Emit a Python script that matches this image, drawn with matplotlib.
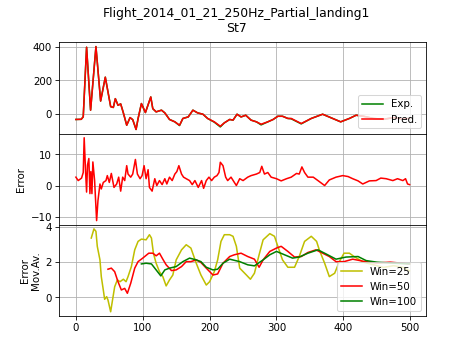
import matplotlib
matplotlib.use("Agg")
import matplotlib.pyplot as plt

TITLE = "Flight_2014_01_21_250Hz_Partial_landing1\nSt7"

# top panel: measured vs predicted signal
sig_x = [0, 8, 11, 16, 22, 30, 37, 44, 52, 56, 59, 63, 67, 71, 76, 81, 85, 90, 93,
         98, 104, 112, 115, 120, 128, 133, 140, 148, 155, 160, 168, 175, 182, 190,
         197, 207, 216, 222, 230, 235, 241, 247, 254, 262, 270, 277, 287, 295, 302,
         309, 317, 322, 337, 352, 369, 384, 396, 409, 419, 430, 445, 460, 475,
         488, 499]
exp_vals = [-31, -30, -15, 396, 24, 400, 78, 219, 45, 40, 92, 53, 61, 8, -65, -20,
            -32, -90, -26, 63, 10, 102, 33, 14, 24, 8, -31, -45, -67, -25, -16, 24,
            8, 0, -25, -47, -75, -51, -31, -35, 0, -16, -6, -35, -45, -63, -45, -31,
            -12, -12, -25, -27, -57, -25, 0, -25, -45, -25, -6, -12, -25, -30, -20,
            -28, -25]
pred_vals = [-31, -30, -15, 396, 24, 400, 78, 219, 45, 40, 92, 53, 61, 8, -65, -20,
             -32, -90, -26, 63, 10, 102, 33, 14, 24, 8, -31, -45, -65, -25, -16, 24,
             8, 0, -25, -45, -71, -51, -31, -35, 0, -16, -6, -35, -45, -59, -45,
             -31, -12, -12, -25, -25, -55, -25, 0, -25, -45, -25, -6, -12, -25, -30,
             -20, -28, -25]

# middle panel: prediction error
err_x = [0, 3.5, 8.5, 11, 12.4, 14.5, 16, 17.4, 19.4, 21, 22.4, 24, 25.4, 28, 31,
         33, 36, 38, 41, 45, 47, 50, 53, 57, 61, 64, 67, 70, 73, 76, 78, 82, 85,
         89, 92, 96, 99, 102, 105, 108, 110, 114, 118, 121, 125, 129, 133, 136,
         140, 144, 148, 151, 154, 158, 161, 165, 170, 174, 178, 183, 188, 191, 195,
         199, 203, 207, 211, 214, 216, 220, 224, 227, 232, 237, 240, 245, 250, 257,
         262, 270, 275, 278, 282, 287, 292, 300, 307, 315, 322, 330, 334, 338, 342,
         347, 355, 362, 372, 379, 389, 399, 407, 414, 422, 429, 439, 449, 456, 464,
         474, 481, 489, 493, 496, 499]
err_vals = [2.7, 1.6, 2.4, 4.2, 15.4, 4.5, -2.1, 6.6, 8.7, -2.6, 4.5, -2.6, 7.6,
            1.6, -11.3, -4.9, 0.5, -1.1, 1.0, 1.6, 3.2, 1.0, 3.9, -0.6, 0.5, 2.7,
            -1.8, 2.7, 1.6, 6.4, 3.7, 2.7, 3.7, 8.4, 3.7, 2.2, 3.2, 6.4, 2.2, 5.1,
            -0.6, -1.8, 2.2, 0.0, 1.6, 0.3, 2.2, 0.5, 2.7, 1.6, 3.7, 4.5, 6.4, 3.7,
            2.7, 2.2, 1.6, 0.3, 1.6, -0.6, 1.6, -0.9, 1.6, 2.7, 1.6, 2.7, 3.2, 4.2,
            7.5, 6.4, 2.7, 1.6, 2.7, 1.0, 0.0, 2.2, 1.6, 2.7, 3.2, 3.7, 4.2, 6.2,
            3.7, 4.2, 2.7, 2.2, 1.5, 2.2, 2.7, 3.9, 3.7, 6.0, 4.2, 2.7, 2.7, 1.6,
            0.0, 1.8, 2.7, 3.2, 2.9, 2.2, 1.5, 0.5, 1.5, 1.6, 2.4, 2.2, 1.6, 2.2,
            1.6, 2.2, 0.5, 0.3]

# bottom panel: moving averages of the error
w25_x = [23, 27, 30, 32, 36, 38, 41, 43, 46, 48, 52, 54, 58, 62, 66, 71, 75, 78,
         83, 88, 93, 98, 105, 110, 113, 116, 120, 125, 130, 135, 140, 145, 150,
         158, 165, 172, 180, 187, 195, 200, 207, 212, 217, 222, 230, 235, 240, 245,
         255, 261, 267, 274, 280, 290, 297, 302, 309, 317, 327, 334, 342, 352, 360,
         364, 372, 379, 387, 394, 401, 409, 416, 430, 445, 460, 475, 490, 499]
w25_vals = [3.37, 3.89, 3.75, 2.9, 2.13, 1.18, 0.42, -0.11, 0.04, -0.15, -0.82,
            -0.34, 0.6, 0.99, 0.89, 1.03, 0.89, 1.18, 1.75, 2.7, 3.18, 3.31, 3.27,
            3.56, 3.37, 2.5, 1.94, 1.46, 1.18, 0.65, 0.99, 1.27, 2.13, 2.7, 2.99,
            2.8, 1.94, 1.27, 0.7, 0.89, 1.46, 2.13, 3.18, 3.56, 3.56, 3.47, 2.9,
            1.66, 1.27, 1.03, 1.37, 2.42, 3.27, 3.62, 3.47, 2.9, 2.13, 1.71, 1.71,
            2.32, 3.18, 3.47, 3.18, 2.7, 1.94, 1.18, 1.37, 2.03, 2.51, 2.51, 2.32,
            2.0, 1.85, 1.7, 1.8, 1.7, 1.5]
w50_x = [48, 53, 58, 63, 68, 73, 77, 82, 88, 93, 100, 109, 115, 120, 125, 130,
         135, 143, 150, 158, 165, 172, 180, 187, 195, 205, 212, 220, 230, 237, 247,
         257, 267, 274, 280, 290, 300, 307, 317, 327, 337, 347, 359, 369, 379, 389,
         401, 414, 430, 450, 470, 499]
w50_vals = [1.6, 1.66, 1.46, 0.89, 0.42, 0.51, 0.23, 0.8, 1.66, 2.03, 2.23, 2.51,
            2.51, 2.36, 2.51, 2.17, 1.85, 1.52, 1.56, 1.75, 2.03, 2.03, 2.13, 1.98,
            1.66, 1.27, 1.33, 1.94, 2.32, 2.42, 2.51, 2.32, 2.17, 1.71, 2.13, 2.61,
            2.8, 2.9, 2.61, 2.29, 2.32, 2.55, 2.7, 2.51, 2.32, 2.03, 2.03, 2.17,
            2.05, 1.95, 2.0, 1.9]
w100_x = [98, 105, 113, 120, 127, 133, 140, 150, 160, 170, 180, 187, 195, 205,
          212, 220, 230, 245, 257, 267, 280, 290, 300, 312, 324, 334, 347, 362,
          374, 389, 404, 422, 434, 450, 470, 499]
w100_vals = [1.9, 1.94, 1.9, 1.56, 1.22, 1.56, 1.66, 1.75, 2.03, 2.23, 2.13, 2.03,
             1.71, 1.56, 1.6, 1.94, 2.17, 2.03, 1.85, 1.79, 2.13, 2.42, 2.61, 2.42,
             2.23, 2.29, 2.51, 2.7, 2.47, 2.17, 2.29, 2.32, 2.09, 2.0, 1.95, 1.9]

fig, axs = plt.subplots(3, 1, figsize=(6.4, 4.8), dpi=74, sharex=True)
fig.subplots_adjust(hspace=0)
fig.suptitle(TITLE)

axs[0].plot(sig_x, exp_vals, "g", label="Exp.")
axs[0].plot(sig_x, pred_vals, "r", label="Pred.")
axs[0].legend(loc="lower right")

axs[1].plot(err_x, err_vals, "r")
axs[1].set_ylabel("Error")

axs[2].plot(w25_x, w25_vals, "y", label="Win=25")
axs[2].plot(w50_x, w50_vals, "r", label="Win=50")
axs[2].plot(w100_x, w100_vals, "g", label="Win=100")
axs[2].set_ylabel("Error\nMov.Av.")
axs[2].legend(loc="lower right")

for ax in axs:
    ax.grid(True)

fig.savefig("out.png")
